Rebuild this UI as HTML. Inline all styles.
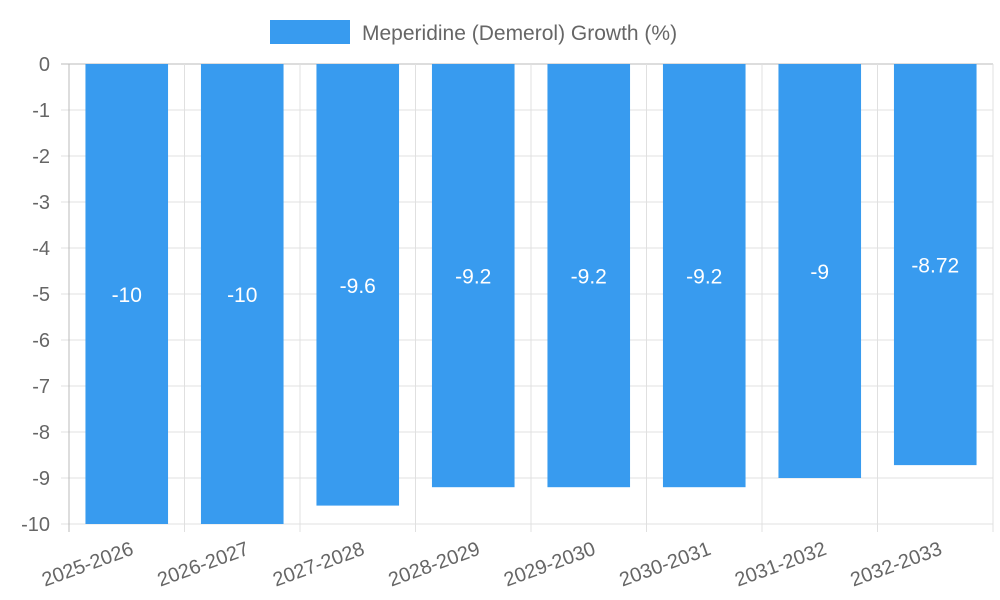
<!DOCTYPE html>
<html><head><meta charset="utf-8"><style>
html,body{margin:0;padding:0;background:#fff;}
svg{display:block;font-family:"Liberation Sans",Arial,sans-serif;}
</style></head><body>
<svg id="chart" width="1000" height="600">
<g id="legend">
<rect x="270" y="20" width="80" height="24" fill="#389bef"></rect>
<text x="362" y="40" font-size="21" fill="#666">Meperidine (Demerol) Growth (%)</text>
</g>
<g id="grid"></g><g id="bars"></g><g id="labels"></g>
</svg>
<script>
const categories=["2025-2026","2026-2027","2027-2028","2028-2029","2029-2030","2030-2031","2031-2032","2032-2033"];
const values=[-10,-10,-9.6,-9.2,-9.2,-9.2,-9,-8.72];
const yTicks=[0,-1,-2,-3,-4,-5,-6,-7,-8,-9,-10];
const NS="http://www.w3.org/2000/svg";
const L=69,R=993,T=64,B=524;
const band=(R-L)/categories.length;
const y=v=>T+(0-v)/10*(B-T);
const x=i=>L+band*i;
function mk(tag,attrs,parent){const e=document.createElementNS(NS,tag);for(const k in attrs)e.setAttribute(k,attrs[k]);parent.appendChild(e);return e;}
const grid=document.getElementById('grid'),bars=document.getElementById('bars'),labels=document.getElementById('labels');
yTicks.forEach(t=>{
 const ln=mk('line',{x1:61,x2:R,y1:y(t),y2:y(t),stroke:t===0?'#bbb':'#e0e0e0','stroke-width':1},grid);
 
 
 const tx=mk('text',{x:50,y:y(t)+7,'text-anchor':'end','font-size':20,fill:'#666'},grid);
 tx.textContent=t;
 
 
});
for(let i=0;i<=categories.length;i++){
 const ln=mk('line',{x1:x(i),x2:x(i),y1:T,y2:B+8,stroke:i===0?'#bbb':'#e0e0e0','stroke-width':1},grid);
 
 
}
categories.forEach((c,i)=>{
 const cx=x(i)+band/2,w=band*0.715,v=values[i];
 const r=mk('rect',{x:cx-w/2,y:y(0),width:w,height:y(v)-y(0),fill:'#389bef'},bars);
 
 
 const vl=mk('text',{x:cx,y:(y(0)+y(v))/2+8,'text-anchor':'middle','font-size':21,fill:'#fff'},labels);
 vl.textContent=v;
 
 
 const xl=mk('text',{x:cx+8,y:B+30,'text-anchor':'end','font-size':20,fill:'#666',transform:`rotate(-20 ${cx+8} ${B+30})`},labels);
 xl.textContent=c;
 
 
});
</script>
</body></html>
